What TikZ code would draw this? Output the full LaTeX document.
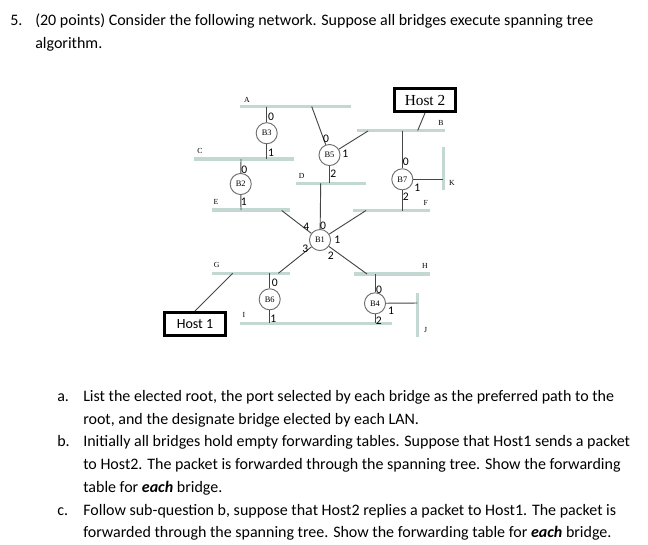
\documentclass[tikz,border=0pt]{standalone}
\usepackage{fontspec}
\setmainfont{Carlito}
\newfontfamily\tnr{Liberation Serif}
\definecolor{lanc}{RGB}{196,216,211}
\definecolor{wirec}{RGB}{70,70,70}
\definecolor{circc}{RGB}{110,110,110}
\begin{document}
\begin{tikzpicture}[x=0.75pt,y=-0.75pt,
  lan/.style={draw=lanc, line width=2.7pt},
  wire/.style={draw=wirec, line width=0.7pt},
  bridge/.style={circle, draw=circc, line width=0.7pt, fill=white, minimum size=15.8pt, inner sep=0pt, font=\tnr\fontsize{6.3}{7}\selectfont},
  port/.style={inner sep=0pt, font=\fontsize{8.7}{9}\selectfont},
  lanlbl/.style={inner sep=0pt, font=\tnr\fontsize{5.8}{6}\selectfont},
  hostbox/.style={draw=black, line width=2.2pt, inner sep=0pt, minimum width=45.5pt, minimum height=17pt},
  txt/.style={inner sep=0pt, anchor=base west, font=\fontsize{12}{14}\selectfont}]
\useasboundingbox (0,0) rectangle (648,544);

% ---- text ----
\node[txt] (t0) at (10,25) {5.};
\node[txt] (t1) at (35,25) {(20 points) Consider the following network. Suppose all bridges execute spanning tree};
\node[txt] (t2) at (35,48) {algorithm.};
\node[txt] (ta) at (57,401) {a.};
\node[txt] (ta1) at (83,401) {List the elected root, the port selected by each bridge as the preferred path to the};
\node[txt] (ta2) at (83,424) {root, and the designate bridge elected by each LAN.};
\node[txt] (tb) at (57,446) {b.};
\node[txt] (tb1) at (83,446) {Initially all bridges hold empty forwarding tables. Suppose that Host1 sends a packet};
\node[txt] (tb2) at (83,469) {to Host2. The packet is forwarded through the spanning tree. Show the forwarding};
\node[txt] (tb3) at (83,492) {table for \textbf{\textit{each}} bridge.};
\node[txt] (tc) at (57,515) {c.};
\node[txt] (tc1) at (83,515) {Follow sub-question b, suppose that Host2 replies a packet to Host1. The packet is};
\node[txt] (tc2) at (83,537) {forwarded through the spanning tree. Show the forwarding table for \textbf{\textit{each}} bridge.};

% ---- LANs ----
\draw[lan] (240,106.5) -- (351,106.5);   % A
\draw[lan] (357,130.5) -- (445,130.5);   % B
\draw[lan] (194,159) -- (294,159);       % C
\draw[lan] (296,183.3) -- (366,183.3);   % D
\draw[lan] (211.7,210) -- (290,210);     % E
\draw[lan] (353,210.5) -- (430,210.5);   % F
\draw[lan] (211.7,273.3) -- (290,273.3); % G
\draw[lan] (354,274) -- (430,274);       % H
\draw[lan] (240,323.3) -- (391.7,323.3); % I
\draw[lan] (417.3,293.3) -- (417.3,336.7); % J
\draw[lan] (443.3,146.7) -- (443.3,190);   % K

\node[lanlbl] (lA) at (247,100) {A};
\node[lanlbl] (lB) at (441,123) {B};
\node[lanlbl] (lC) at (200,151) {C};
\node[lanlbl] (lD) at (301.7,176) {D};
\node[lanlbl] (lE) at (216,202) {E};
\node[lanlbl] (lF) at (425.7,203) {F};
\node[lanlbl] (lG) at (216.7,265) {G};
\node[lanlbl] (lH) at (425,266) {H};
\node[lanlbl] (lI) at (244,315) {I};
\node[lanlbl] (lJ) at (425.7,330) {J};
\node[lanlbl] (lK) at (452,183.3) {K};

% ---- attachment points ----
\coordinate (a3) at (266.7,106.5);
\coordinate (c3) at (266.7,159);
\coordinate (a5) at (311.7,106.5);
\coordinate (b5) at (368,131);
\coordinate (d5) at (329.5,183.3);
\coordinate (c2) at (241,159);
\coordinate (e2) at (241,210);
\coordinate (b7) at (402.3,130.5);
\coordinate (f7) at (402.3,210.5);
\coordinate (k7) at (443.3,179.3);
\coordinate (d1) at (320.7,183.3);
\coordinate (e1) at (281.7,210.5);
\coordinate (f1) at (366,210.5);
\coordinate (g1) at (278.3,273.3);
\coordinate (h1) at (367,274);
\coordinate (g6) at (269.7,273.3);
\coordinate (i6) at (269.7,323.3);
\coordinate (h4) at (375,274);
\coordinate (i4) at (375,323.3);
\coordinate (j4) at (417.3,303);
\coordinate (g0) at (232.7,273.3);
\coordinate (bh) at (417.7,130.5);

% ---- hosts ----
\node[hostbox, font=\tnr\fontsize{11.5}{12}\selectfont] (H2) at (425,100.2) {Host 2};
\node[hostbox, font=\fontsize{10.5}{12}\selectfont] (H1) at (195,323.8) {Host 1};
\draw[wire] (H2.south) -- (bh);
\draw[wire] (g0) -- (H1.north);

% ---- bridges ----
\node[bridge] (B3) at (266.7,133.2) {B3};
\node[bridge] (B5) at (329.5,155) {B5};
\node[bridge] (B2) at (240.7,184) {B2};
\node[bridge] (B7) at (402.3,179.3) {B7};
\node[bridge] (B1) at (320,240) {B1};
\node[bridge] (B6) at (269.7,299.3) {B6};
\node[bridge] (B4) at (375,303.3) {B4};

\draw[wire] (a3) -- (B3);
\draw[wire] (B3) -- (c3);
\draw[wire] (a5) -- (B5);
\draw[wire] (B5) -- (b5);
\draw[wire] (B5) -- (d5);
\draw[wire] (c2) -- (B2);
\draw[wire] (B2) -- (e2);
\draw[wire] (b7) -- (B7);
\draw[wire] (B7) -- (f7);
\draw[wire] (B7) -- (k7);
\draw[wire] (d1) -- (B1);
\draw[wire] (B1) -- (e1);
\draw[wire] (B1) -- (f1);
\draw[wire] (B1) -- (g1);
\draw[wire] (B1) -- (h1);
\draw[wire] (g6) -- (B6);
\draw[wire] (B6) -- (i6);
\draw[wire] (h4) -- (B4);
\draw[wire] (B4) -- (i4);
\draw[wire] (B4) -- (j4);

% ---- port numbers ----
\node[port] (p30) at (271,116.7) {0};
\node[port] (p31) at (271,152.3) {1};
\node[port] (p50) at (326,139) {0};
\node[port] (p51) at (345.3,154) {1};
\node[port] (p52) at (333.3,174) {2};
\node[port] (p20) at (244.3,169.3) {0};
\node[port] (p21) at (243.8,201.7) {1};
\node[port] (p70) at (405.7,161.7) {0};
\node[port] (p71) at (417.3,187.3) {1};
\node[port] (p72) at (405.7,196.7) {2};
\node[port] (p10) at (323,226) {0};
\node[port] (p14) at (306.3,226.7) {4};
\node[port] (p11) at (337.3,239.3) {1};
\node[port] (p12) at (330.7,256) {2};
\node[port] (p13) at (305.3,248.7) {3};
\node[port] (p60) at (274.7,282.7) {0};
\node[port] (p61) at (273.3,318.3) {1};
\node[port] (p40) at (379,289.3) {0};
\node[port] (p41) at (391,310.7) {1};
\node[port] (p42) at (378.7,321) {2};
\end{tikzpicture}
\end{document}
